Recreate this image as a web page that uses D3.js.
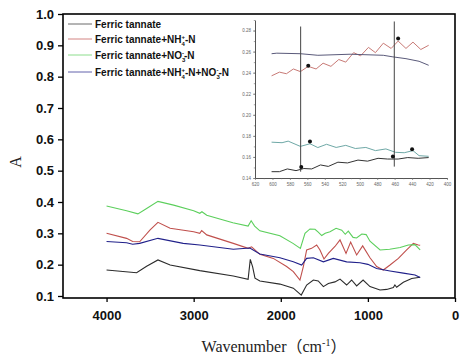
<!DOCTYPE html>
<meta charset="utf-8">
<style>
  body { margin: 0; background: #fff; }
  svg { display: block; }
</style>
<script src="https://d3js.org/d3.v7.min.js"></script>
<body>
<script>

var width = 474,
    height = 363;

// main spectra: [wavenumber, absorbance]
var ferric = [[4000,0.183],[3655,0.174],[3540,0.195],[3410,0.215],[3270,0.199],[2930,0.181],[2545,0.164],[2375,0.153],[2350,0.217],[2323,0.193],[2296,0.157],[2240,0.148],[2010,0.138],[1856,0.125],[1765,0.103],[1703,0.135],[1626,0.151],[1570,0.148],[1511,0.130],[1454,0.140],[1378,0.145],[1320,0.154],[1244,0.135],[1187,0.151],[1129,0.132],[1055,0.151],[976,0.130],[861,0.119],[784,0.121],[708,0.127],[690,0.135],[670,0.128],[593,0.144],[497,0.156],[400,0.160]];
var ferricNH4 = [[4000,0.300],[3770,0.284],[3700,0.274],[3620,0.273],[3500,0.311],[3410,0.335],[3270,0.316],[3000,0.305],[2930,0.300],[2908,0.309],[2850,0.295],[2545,0.268],[2375,0.252],[2335,0.257],[2240,0.233],[2086,0.220],[1933,0.194],[1856,0.178],[1780,0.151],[1741,0.194],[1703,0.247],[1646,0.252],[1588,0.263],[1550,0.247],[1504,0.218],[1454,0.236],[1378,0.258],[1320,0.279],[1251,0.236],[1198,0.272],[1129,0.231],[1060,0.260],[976,0.222],[899,0.194],[823,0.183],[746,0.199],[650,0.220],[555,0.247],[478,0.268],[421,0.263],[400,0.262]];
var ferricNO3 = [[4000,0.387],[3770,0.372],[3640,0.362],[3540,0.379],[3410,0.402],[3230,0.390],[3000,0.372],[2930,0.364],[2905,0.369],[2850,0.358],[2550,0.334],[2375,0.323],[2340,0.340],[2300,0.323],[2240,0.308],[2010,0.292],[1860,0.268],[1775,0.252],[1722,0.300],[1665,0.314],[1607,0.313],[1570,0.304],[1530,0.293],[1490,0.300],[1435,0.305],[1365,0.316],[1300,0.310],[1260,0.297],[1225,0.307],[1170,0.287],[1130,0.285],[1070,0.298],[1020,0.296],[976,0.275],[860,0.247],[750,0.249],[630,0.255],[536,0.263],[460,0.264],[400,0.247]];
var ferricBoth = [[4000,0.274],[3770,0.270],[3700,0.265],[3620,0.268],[3410,0.284],[3120,0.268],[2930,0.263],[2545,0.249],[2355,0.253],[2240,0.234],[2010,0.222],[1856,0.209],[1760,0.199],[1703,0.220],[1626,0.222],[1511,0.209],[1397,0.220],[1244,0.209],[1091,0.206],[1000,0.201],[900,0.188],[746,0.180],[593,0.173],[459,0.167],[400,0.159]];

// inset (620-400 cm-1)
var insetBoth = [[601,0.258],[595,0.2585],[568,0.258],[548,0.2565],[511,0.2575],[473,0.2565],[462,0.255],[447,0.2533],[432,0.2508],[421,0.247]];
var insetNH4 = [[601,0.237],[592,0.2405],[584,0.239],[576,0.2435],[568,0.241],[559,0.246],[550,0.2435],[542,0.249],[533,0.246],[524,0.2525],[516,0.250],[507,0.259],[499,0.256],[490,0.264],[482,0.259],[473,0.268],[464,0.263],[456,0.270],[447,0.263],[439,0.269],[430,0.262],[421,0.266]];
var insetNO3 = [[601,0.174],[589,0.1735],[582,0.175],[568,0.170],[557,0.1725],[548,0.1689],[538,0.172],[527,0.169],[516,0.171],[505,0.168],[493,0.169],[482,0.166],[470,0.1676],[459,0.1644],[449,0.164],[439,0.166],[432,0.1612],[421,0.1606]];
var insetFerric = [[601,0.146],[592,0.146],[583,0.1486],[573,0.147],[564,0.149],[555,0.1486],[545,0.1524],[536,0.151],[525,0.155],[514,0.1543],[502,0.157],[491,0.156],[479,0.1587],[468,0.158],[456,0.158],[445,0.1594],[433,0.1587],[421,0.1594]];
var insetDots = [[567,0.1505],[559,0.2465],[557,0.1746],[462,0.1603],[456,0.2725],[440,0.1673]];
var insetMarks = [[567.7,0.146,0.2838],[460.4,0.1508,0.2886]];

var mainXTicks = [4000, 3000, 2000, 1000, 0];
var mainYTicks = [0.1, 0.2, 0.3, 0.4, 0.5, 0.6, 0.7, 0.8, 0.9, 1.0];
var insetXTicks = [620, 600, 580, 560, 540, 520, 500, 480, 460, 440, 420, 400];
var insetYTicks = [0.14, 0.16, 0.18, 0.20, 0.22, 0.24, 0.26, 0.28];

var series = [
  {data: ferric,    color: "#2b2b2b", inset: insetFerric, insetColor: "#333333"},
  {data: ferricNH4, color: "#c0504d", inset: insetNH4,    insetColor: "#c87a76"},
  {data: ferricNO3, color: "#5ccf5c", inset: insetNO3,    insetColor: "#6ea8a6"},
  {data: ferricBoth,color: "#20208a", inset: insetBoth,   insetColor: "#5a5a7a"}
];

var svg = d3.select("body").append("svg")
    .attr("width", width)
    .attr("height", height);

var mLeft = 63, mRight = 455, mTop = 14, mBottom = 298;

var x = d3.scaleLinear().domain([4500, 0]).range([mLeft, mRight]);
var y = d3.scaleLinear().domain([0.0936, 1.0]).range([mBottom, mTop]);

var line = d3.line()
    .x(function(d){ return x(d[0]); })
    .y(function(d){ return y(d[1]); });

var plot = svg.append("g");
series.forEach(function(s){
  plot.append("path")
    .datum(s.data)
    .attr("d", line)
    .attr("fill", "none")
    .attr("stroke", s.color)
    .attr("stroke-width", 1.1);
});

var fontAxis = "Arial, 'Liberation Sans', sans-serif";

var yAxis = svg.append("g")
    .attr("transform", "translate(" + mLeft + ",0)")
    .call(d3.axisLeft(y).tickValues(mainYTicks).tickFormat(d3.format(".1f")).tickSize(5).tickPadding(4).tickSizeOuter(0));
var xAxis = svg.append("g")
    .attr("transform", "translate(0," + mBottom + ")")
    .call(d3.axisBottom(x).tickValues(mainXTicks).tickFormat(d3.format("d")).tickSize(4).tickPadding(9).tickSizeOuter(0));

[xAxis, yAxis].forEach(function(a){
  a.select(".domain").remove();
  a.selectAll("line").attr("stroke", "#000").attr("stroke-width", 1.3);
  a.selectAll("text")
    .attr("font-family", fontAxis)
    .attr("font-weight", "bold")
    .attr("font-size", 13)
    .attr("fill", "#111");
});

svg.append("rect")
    .attr("x", mLeft).attr("y", mTop)
    .attr("width", mRight - mLeft).attr("height", mBottom - mTop)
    .attr("fill", "none")
    .attr("stroke", "#000")
    .attr("stroke-width", 1.6);

// axis titles
var serif = "'Liberation Serif', 'Times New Roman', 'Noto Sans CJK SC', serif";
svg.append("text")
    .attr("transform", "translate(21,162) rotate(-90)")
    .attr("text-anchor", "middle")
    .attr("font-family", serif)
    .attr("font-size", 16)
    .attr("fill", "#222")
    .text("A");

var xt = svg.append("text")
    .attr("x", 274).attr("y", 352)
    .attr("text-anchor", "middle")
    .attr("font-family", serif)
    .attr("font-size", 16)
    .attr("fill", "#222");
xt.append("tspan").text("Wavenumber\uFF08cm");
xt.append("tspan").attr("dy", -6).attr("font-size", 10).text("-1");
xt.append("tspan").attr("dy", 6).text("\uFF09");

// legend
var legend = svg.append("g").attr("font-family", fontAxis).attr("font-weight", "bold").attr("font-size", 10).attr("fill", "#111");
var legendRows = [24, 39, 55, 72];
var labels = [
  [["Ferric tannate"]],
  [["Ferric tannate+NH"], ["4", "+"], ["-N"]],
  [["Ferric tannate+NO"], ["3", "-"], ["-N"]],
  [["Ferric tannate+NH"], ["4", "+"], ["-N+NO"], ["3", "-"], ["-N"]]
];
labels.forEach(function(parts, i){
  var yy = legendRows[i];
  legend.append("line")
    .attr("x1", 68).attr("x2", 92)
    .attr("y1", yy).attr("y2", yy)
    .attr("stroke", series[i].color)
    .attr("stroke-opacity", 0.7)
    .attr("stroke-width", 1);
  var t = legend.append("text").attr("x", 95).attr("y", yy + 3.5);
  var pending = 0;
  parts.forEach(function(p){
    if (p.length === 1) {
      t.append("tspan").attr("dy", pending).text(p[0]);
      pending = 0;
    } else {
      t.append("tspan").attr("dy", 3).attr("font-size", 6).text(p[0]);
      t.append("tspan").attr("dx", -3.3).attr("dy", -7).attr("font-size", 6).text(p[1]);
      pending = 4;
    }
  });
});

// inset
var ix = d3.scaleLinear().domain([620, 400]).range([255, 447]);
var iy = d3.scaleLinear().domain([0.14, 0.29]).range([178, 20]);
var inset = svg.append("g");

var iline = d3.line()
    .x(function(d){ return ix(d[0]); })
    .y(function(d){ return iy(d[1]); });

series.forEach(function(s){
  inset.append("path")
    .datum(s.inset)
    .attr("d", iline)
    .attr("fill", "none")
    .attr("stroke", s.insetColor)
    .attr("stroke-width", 1);
});

inset.selectAll(".mark").data(insetMarks).enter().append("line")
    .attr("x1", function(d){ return ix(d[0]); })
    .attr("x2", function(d){ return ix(d[0]); })
    .attr("y1", function(d){ return iy(d[1]); })
    .attr("y2", function(d){ return iy(d[2]); })
    .attr("stroke", "#444")
    .attr("stroke-width", 1);

inset.selectAll(".dot").data(insetDots).enter().append("circle")
    .attr("cx", function(d){ return ix(d[0]); })
    .attr("cy", function(d){ return iy(d[1]); })
    .attr("r", 2)
    .attr("fill", "#111");

var iyAxis = inset.append("g")
    .attr("transform", "translate(255,0)")
    .call(d3.axisLeft(iy).tickValues(insetYTicks).tickFormat(d3.format(".2f")).tickSize(2).tickPadding(2).tickSizeOuter(0));
var ixAxis = inset.append("g")
    .attr("transform", "translate(0,178)")
    .call(d3.axisBottom(ix).tickValues(insetXTicks).tickFormat(d3.format("d")).tickSize(2).tickPadding(3).tickSizeOuter(0));
// minor ticks
inset.append("g")
    .attr("transform", "translate(255,0)")
    .call(d3.axisLeft(iy).ticks(15).tickFormat("").tickSize(1.2).tickSizeOuter(0))
    .select(".domain").remove();
inset.append("g")
    .attr("transform", "translate(0,178)")
    .call(d3.axisBottom(ix).ticks(22).tickFormat("").tickSize(1.2).tickSizeOuter(0))
    .select(".domain").remove();

inset.selectAll(".domain").attr("stroke", "#555").attr("stroke-width", 1);
inset.selectAll(".tick line").attr("stroke", "#666").attr("stroke-width", 0.6);
inset.selectAll("text")
    .attr("font-family", fontAxis)
    .attr("font-size", 4.5)
    .attr("fill", "#666");

</script>
</body>
